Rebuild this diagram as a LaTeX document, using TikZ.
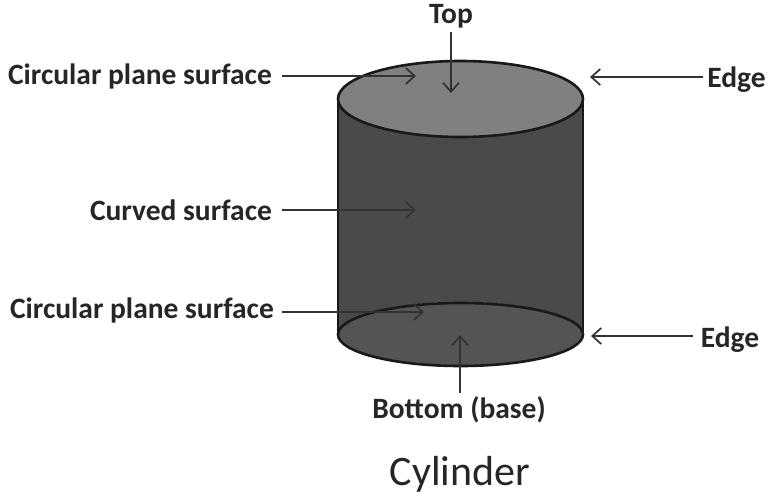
\documentclass[tikz,border=0pt]{standalone}
\usepackage{fontspec}
\setmainfont{Carlito}
\usetikzlibrary{arrows.meta}
\definecolor{topgrey}{gray}{0.50}
\definecolor{sidegrey}{gray}{0.29}
\definecolor{basegrey}{gray}{0.33}
\definecolor{inkline}{gray}{0.10}
\definecolor{arrowline}{gray}{0.2}
\tikzset{
  lab/.style={font=\bfseries\fontsize{29.5}{29.5}\selectfont, text=black!85, inner sep=0pt, anchor=center},
  conn/.style={draw=arrowline, line width=1.6pt, -{Straight Barb[length=9pt,width=16pt,line width=1.7pt]}},
  rim/.style={draw=inkline, line width=2.6pt}
}
\begin{document}
\begin{tikzpicture}[x=1pt,y=-1pt]
\useasboundingbox (0,0) rectangle (771,496);
% cylinder
\fill[sidegrey] (338,99) -- (338,334) arc[start angle=180,end angle=360,x radius=122.5,y radius=32] -- (583,99) -- cycle;
\draw[rim] (338,99) -- (338,334);
\draw[rim] (583,99) -- (583,334);
\draw[rim,fill=basegrey] (460.5,334.5) ellipse[x radius=122.5,y radius=31.5];
\draw[rim,fill=topgrey] (460.5,99) ellipse[x radius=122.5,y radius=38];
% labels
\node[lab] (top) at (451,16) {Top};
\node[lab] (cp1) at (140,76) {Circular plane surface};
\node[lab] (curved) at (181,210) {Curved surface};
\node[lab] (cp2) at (142,310) {Circular plane surface};
\node[lab] (edge1) at (736.5,80) {Edge};
\node[lab] (edge2) at (730,340) {Edge};
\node[lab] (bottom) at (459,410) {Bottom (base)};
\node[font=\fontsize{42}{42}\selectfont, text=black!85, inner sep=0pt] (title) at (460,474) {Cylinder};
% arrow targets
\coordinate (t0) at (451,32);
\coordinate (t1) at (451,93);
\coordinate (a1s) at (282,76);
\coordinate (a1e) at (416,76);
\coordinate (a2s) at (282,210);
\coordinate (a2e) at (416,210);
\coordinate (a3s) at (282,312);
\coordinate (a3e) at (424,312);
\coordinate (e1s) at (703,77);
\coordinate (e1e) at (590,77);
\coordinate (e2s) at (693,336);
\coordinate (e2e) at (591,336);
\coordinate (b0) at (460,393);
\coordinate (b1) at (460,335);
\draw[conn] (t0) -- (t1);
\draw[conn] (a1s) -- (a1e);
\draw[conn] (a2s) -- (a2e);
\draw[conn] (a3s) -- (a3e);
\draw[conn] (e1s) -- (e1e);
\draw[conn] (e2s) -- (e2e);
\draw[conn] (b0) -- (b1);
\end{tikzpicture}
\end{document}
